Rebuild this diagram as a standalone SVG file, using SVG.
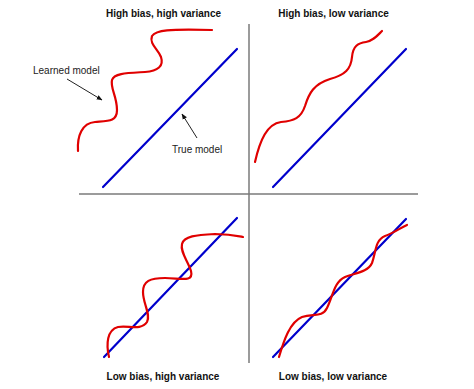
<svg xmlns="http://www.w3.org/2000/svg" width="474" height="389" viewBox="0 0 474 389">
<style>
.title{font-family:"Liberation Sans",Arial,sans-serif;font-size:10px;font-weight:bold;fill:#111;text-anchor:middle}
.lbl{font-family:"Liberation Sans",Arial,sans-serif;font-size:10px;fill:#222}
.axis{stroke:#7a7a7a;stroke-width:1.5;fill:none}
.truth{stroke:#0000cc;stroke-width:2.2;fill:none;stroke-linecap:round}
.learn{stroke:#e00000;stroke-width:2.2;fill:none;stroke-linecap:round}
.arrow{stroke:#222;stroke-width:1;fill:none;marker-end:url(#ah)}
</style>
<defs>
<marker id="ah" viewBox="0 0 10 10" refX="9" refY="5" markerWidth="6" markerHeight="6" orient="auto" markerUnits="userSpaceOnUse">
<path d="M0,1 L10,5 L0,9 z" fill="#111"/>
</marker>
</defs>
<rect width="474" height="389" fill="#fff"/>
<g id="axes">
<line class="axis" x1="79" y1="194" x2="418" y2="194"/>
<line class="axis" x1="249" y1="24" x2="249" y2="363"/>
</g>
<g id="panel-high-bias-high-variance">
<text class="title" x="163.5" y="17">High bias, high variance</text>
<line class="truth" x1="103" y1="187" x2="237" y2="49"/>
<path class="learn" d="M78,151 C77,136 82,123 95,122 C108,121 117,122 117,110 C117,96 110,88 112,80 C114,73 128,73 145,72 C158,71 164,66 161,57 C158,49 149,44 152,36 C156,30 168,29 212,30"/>
</g>
<g id="panel-high-bias-low-variance">
<text class="title" x="333.5" y="17">High bias, low variance</text>
<line class="truth" x1="273" y1="187" x2="406" y2="49"/>
<path class="learn" d="M255,162 C260,140 267,124 281,122 C294,121 301,118 305,106 C309,93 314,84 330,79 C345,75 351,69 352,57 C353,46 358,43 366,42 C373,41 377,36 382,31"/>
</g>
<g id="panel-low-bias-high-variance">
<text class="title" x="163" y="380">Low bias, high variance</text>
<line class="truth" x1="104" y1="357" x2="237" y2="218"/>
<path class="learn" d="M109,357 C106,344 107,330 118,327 C128,325 141,331 147,322 C151,314 143,304 143,292 C143,281 150,278 165,278 C180,278 194,283 191,271 C188,261 180,252 182,244 C184,236 196,235 215,234 C230,234 238,236 243,237"/>
</g>
<g id="panel-low-bias-low-variance">
<text class="title" x="333" y="380">Low bias, low variance</text>
<line class="truth" x1="273" y1="357" x2="406" y2="219"/>
<path class="learn" d="M279,357 C284,340 290,322 302,317 C313,313 322,318 327,308 C333,296 334,282 345,277 C355,273 368,272 372,263 C376,252 375,240 385,236 C394,233 400,228 407,225"/>
</g>
<g id="label-learned-model">
<text class="lbl" x="33" y="74">Learned model</text>
</g>
<g id="label-true-model">
<text class="lbl" x="172" y="152.5">True model</text>
</g>
<g id="connectors">
<line class="arrow" x1="67" y1="79" x2="102" y2="100"/>
<line class="arrow" x1="197" y1="138" x2="182" y2="114"/>
</g>
</svg>
